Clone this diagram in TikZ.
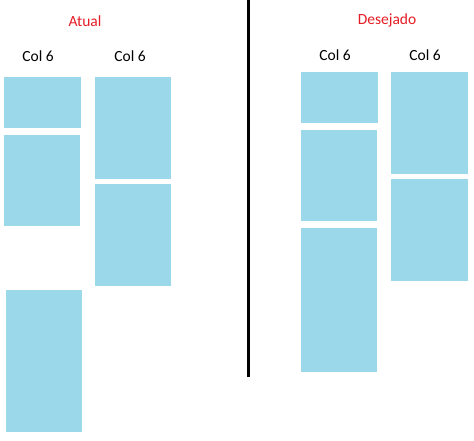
\documentclass[tikz,border=0pt]{standalone}
\usepackage{fontspec}
\setmainfont{Carlito}
\usetikzlibrary{positioning}
\definecolor{cellc}{RGB}{155,216,233}
\definecolor{ttlc}{RGB}{228,28,36}

\begin{document}
\begin{tikzpicture}[x=1pt, y=-1pt,
    cell/.style={fill=cellc, inner sep=0pt, outer sep=0pt, anchor=north west,
                 minimum width=#1},
    cell/.default=77pt,
    ttl/.style={text=ttlc, font=\fontsize{15.5}{18}\selectfont},
    colhd/.style={font=\fontsize{15.5}{18}\selectfont}]

    \useasboundingbox (0,0) rectangle (474,440);

    % Atual
    \node[ttl] (atual) at (85,21) {Atual};
    \node[colhd] (hdA) at (38,56) {Col 6};
    \node[colhd] (hdB) at (130,56) {Col 6};
    \node[cell, minimum height=51pt] (a1) at (4,77) {};
    \node[cell=76pt, minimum height=91pt] (a2) at (4,135) {};
    \node[cell=76pt, minimum height=142pt] (a3) at (6,290) {};
    \node[cell=76pt, minimum height=102pt] (b1) at (95,77) {};
    \node[cell=76pt, minimum height=102pt] (b2) at (95,184) {};

    % separator
    \coordinate (sepT) at (248.5,0);
    \coordinate (sepB) at (248.5,377);
    \draw[line width=2.6pt] (sepT) -- (sepB);

    % Desejado
    \node[ttl] (desej) at (387,20) {Desejado};
    \node[colhd] (hdC) at (335,55) {Col 6};
    \node[colhd] (hdD) at (425,55) {Col 6};
    \node[cell, minimum height=51pt] (c1) at (301,72) {};
    \node[cell=76pt, minimum height=91pt] (c2) at (301,130) {};
    \node[cell=76pt, minimum height=144pt] (c3) at (301,228) {};
    \node[cell, minimum height=102pt] (d1) at (391,72) {};
    \node[cell, minimum height=102pt] (d2) at (391,179) {};
  \end{tikzpicture}
\end{document}
